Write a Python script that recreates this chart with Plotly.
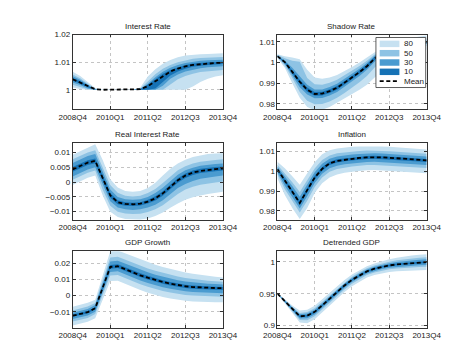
import plotly.graph_objects as go

# ---------------- data ----------------
quarters = ["2008Q4",
            "2009Q1", "2009Q2", "2009Q3", "2009Q4",
            "2010Q1", "2010Q2", "2010Q3", "2010Q4",
            "2011Q1", "2011Q2", "2011Q3", "2011Q4",
            "2012Q1", "2012Q2", "2012Q3", "2012Q4",
            "2013Q1", "2013Q2", "2013Q3", "2013Q4"]
x_tick_labels = ["2008Q4", "2010Q1", "2011Q2", "2012Q3", "2013Q4"]
band_levels = ["80", "50", "30", "10"]
panel_titles = ["Interest Rate", "Shadow Rate", "Real Interest Rate",
                "Inflation", "GDP Growth", "Detrended GDP"]

# Interest Rate
ir_mean = [1.0038, 1.0026, 1.0012, 1.0002, 1.0, 1.0, 1.0, 1.0, 1.0, 1.0002, 1.0013, 1.0030, 1.0050, 1.0066, 1.0077, 1.0085, 1.0090, 1.0093, 1.0095, 1.0097, 1.0098]
ir_u80 = [1.0065, 1.0050, 1.0028, 1.0006, 1.0, 1.0, 1.0, 1.0, 1.0, 1.0008, 1.0048, 1.0074, 1.0094, 1.0108, 1.0118, 1.0124, 1.0127, 1.0129, 1.0130, 1.0131, 1.0132]
ir_l80 = [1.0008, 1.0003, 1.0, 1.0, 1.0, 1.0, 1.0, 1.0, 1.0, 1.0, 1.0, 1.0, 1.0, 1.0, 1.0, 1.0, 1.0012, 1.0028, 1.0040, 1.0048, 1.0053]
ir_u50 = [1.0055, 1.0042, 1.0022, 1.0004, 1.0, 1.0, 1.0, 1.0, 1.0, 1.0005, 1.0030, 1.0056, 1.0076, 1.0090, 1.0100, 1.0107, 1.0112, 1.0115, 1.0117, 1.0118, 1.0119]
ir_l50 = [1.0018, 1.0010, 1.0002, 1.0, 1.0, 1.0, 1.0, 1.0, 1.0, 1.0, 1.0, 1.0, 1.0, 1.0020, 1.0038, 1.0050, 1.0058, 1.0064, 1.0068, 1.0070, 1.0072]
ir_u30 = [1.0049, 1.0036, 1.0018, 1.0002, 1.0, 1.0, 1.0, 1.0, 1.0, 1.0003, 1.0022, 1.0045, 1.0065, 1.0080, 1.0090, 1.0097, 1.0102, 1.0105, 1.0107, 1.0108, 1.0109]
ir_l30 = [1.0026, 1.0017, 1.0005, 1.0, 1.0, 1.0, 1.0, 1.0, 1.0, 1.0, 1.0, 1.0, 1.0015, 1.0040, 1.0055, 1.0066, 1.0073, 1.0078, 1.0082, 1.0084, 1.0085]
ir_u10 = [1.0043, 1.0031, 1.0015, 1.0001, 1.0, 1.0, 1.0, 1.0, 1.0, 1.0003, 1.0018, 1.0038, 1.0058, 1.0072, 1.0082, 1.0090, 1.0095, 1.0098, 1.0100, 1.0101, 1.0102]
ir_l10 = [1.0033, 1.0023, 1.0009, 1.0, 1.0, 1.0, 1.0, 1.0, 1.0, 1.0, 1.0, 1.0005, 1.0030, 1.0052, 1.0066, 1.0076, 1.0083, 1.0087, 1.0090, 1.0092, 1.0093]
ir_ticks = [1.0, 1.01, 1.02]
ir_tick_labels = ["1", "1.01", "1.02"]

# Shadow Rate
sh_mean = [1.0031, 1.0002, 0.9955, 0.9907, 0.9869, 0.9848, 0.9850, 0.9862, 0.9878, 0.9902, 0.9927, 0.9953, 0.9982, 1.0018, 1.0045, 1.0063, 1.0076, 1.0085, 1.0091, 1.0095, 1.0097]
sh_u80 = [1.0040, 1.0030, 1.0024, 1.0016, 0.9965, 0.9928, 0.9922, 0.9928, 0.9940, 0.9958, 0.9978, 1.0000, 1.0023, 1.0048, 1.0072, 1.0090, 1.0103, 1.0113, 1.0120, 1.0126, 1.0130]
sh_l80 = [1.0022, 0.9975, 0.9900, 0.9830, 0.9785, 0.9770, 0.9772, 0.9785, 0.9805, 0.9825, 0.9848, 0.9868, 0.9893, 0.9925, 0.9960, 0.9990, 1.0012, 1.0030, 1.0045, 1.0055, 1.0062]
sh_u50 = [1.0037, 1.0020, 1.0008, 1.0004, 0.9925, 0.9895, 0.9893, 0.9902, 0.9917, 0.9938, 0.9960, 0.9983, 1.0008, 1.0038, 1.0062, 1.0078, 1.0090, 1.0098, 1.0104, 1.0108, 1.0111]
sh_l50 = [1.0025, 0.9985, 0.9925, 0.9858, 0.9815, 0.9798, 0.9800, 0.9812, 0.9830, 0.9853, 0.9878, 0.9905, 0.9935, 0.9975, 1.0008, 1.0033, 1.0050, 1.0062, 1.0071, 1.0077, 1.0080]
sh_u30 = [1.0034, 1.0010, 0.9975, 0.9935, 0.9893, 0.9870, 0.9870, 0.9882, 0.9898, 0.9921, 0.9945, 0.9970, 0.9998, 1.0032, 1.0057, 1.0073, 1.0085, 1.0093, 1.0099, 1.0103, 1.0105]
sh_l30 = [1.0028, 0.9994, 0.9938, 0.9880, 0.9845, 0.9827, 0.9829, 0.9841, 0.9857, 0.9882, 0.9908, 0.9935, 0.9965, 1.0003, 1.0032, 1.0052, 1.0066, 1.0076, 1.0083, 1.0087, 1.0089]
sh_u10 = [1.0032, 1.0005, 0.9962, 0.9917, 0.9879, 0.9857, 0.9859, 0.9871, 0.9887, 0.9910, 0.9935, 0.9961, 0.9990, 1.0025, 1.0051, 1.0068, 1.0081, 1.0089, 1.0095, 1.0099, 1.0101]
sh_l10 = [1.0030, 0.9998, 0.9948, 0.9897, 0.9859, 0.9839, 0.9841, 0.9853, 0.9869, 0.9894, 0.9919, 0.9945, 0.9974, 1.0011, 1.0039, 1.0058, 1.0071, 1.0081, 1.0087, 1.0091, 1.0093]
sh_ticks = [0.98, 0.99, 1.0, 1.01]
sh_tick_labels = ["0.98", "0.99", "1", "1.01"]

# Real Interest Rate
rr_mean = [0.0043, 0.0055, 0.0066, 0.0072, 0.0012, -0.0045, -0.0068, -0.0074, -0.0075, -0.0073, -0.0066, -0.0055, -0.0038, -0.0016, 0.0006, 0.0022, 0.0032, 0.0038, 0.0042, 0.0044, 0.0046]
rr_u80 = [0.0093, 0.0105, 0.0118, 0.0128, 0.0075, 0.0010, -0.0018, -0.0030, -0.0033, -0.0030, -0.0020, -0.0002, 0.0022, 0.0045, 0.0063, 0.0076, 0.0085, 0.0091, 0.0095, 0.0097, 0.0098]
rr_l80 = [-0.0010, 0.0003, 0.0015, 0.0022, -0.0045, -0.0100, -0.0118, -0.0125, -0.0127, -0.0127, -0.0123, -0.0115, -0.0103, -0.0087, -0.0072, -0.0060, -0.0051, -0.0045, -0.0040, -0.0036, -0.0033]
rr_u50 = [0.0077, 0.0089, 0.0100, 0.0108, 0.0052, -0.0010, -0.0036, -0.0046, -0.0049, -0.0046, -0.0037, -0.0023, -0.0003, 0.0020, 0.0040, 0.0054, 0.0063, 0.0069, 0.0073, 0.0075, 0.0077]
rr_l50 = [0.0008, 0.0020, 0.0032, 0.0039, -0.0026, -0.0080, -0.0100, -0.0106, -0.0108, -0.0107, -0.0101, -0.0092, -0.0078, -0.0058, -0.0040, -0.0025, -0.0016, -0.0009, -0.0004, -0.0001, 0.0002]
rr_u30 = [0.0065, 0.0077, 0.0088, 0.0095, 0.0036, -0.0025, -0.0050, -0.0058, -0.0060, -0.0058, -0.0050, -0.0037, -0.0019, 0.0004, 0.0025, 0.0040, 0.0049, 0.0055, 0.0059, 0.0061, 0.0063]
rr_l30 = [0.0019, 0.0032, 0.0043, 0.0050, -0.0009, -0.0065, -0.0086, -0.0092, -0.0094, -0.0092, -0.0086, -0.0077, -0.0061, -0.0040, -0.0020, -0.0006, 0.0004, 0.0011, 0.0016, 0.0019, 0.0022]
rr_u10 = [0.0051, 0.0063, 0.0074, 0.0080, 0.0021, -0.0037, -0.0061, -0.0068, -0.0070, -0.0068, -0.0060, -0.0048, -0.0031, -0.0009, 0.0013, 0.0029, 0.0039, 0.0045, 0.0049, 0.0051, 0.0053]
rr_l10 = [0.0035, 0.0047, 0.0058, 0.0064, 0.0003, -0.0053, -0.0075, -0.0080, -0.0081, -0.0079, -0.0072, -0.0062, -0.0046, -0.0024, -0.0002, 0.0014, 0.0024, 0.0031, 0.0035, 0.0037, 0.0039]
rr_ticks = [-0.01, -0.005, 0.0, 0.005, 0.01]
rr_tick_labels = ["\u22120.01", "\u22120.005", "0", "0.005", "0.01"]

# Inflation
in_mean = [1.0010, 0.9953, 0.9900, 0.9840, 0.9905, 0.9968, 1.0012, 1.0040, 1.0052, 1.0058, 1.0063, 1.0067, 1.0070, 1.0071, 1.0070, 1.0068, 1.0065, 1.0062, 1.0059, 1.0057, 1.0055]
in_u80 = [1.0048, 1.0015, 0.9975, 0.9932, 0.9990, 1.0045, 1.0085, 1.0105, 1.0115, 1.0120, 1.0123, 1.0125, 1.0126, 1.0126, 1.0125, 1.0123, 1.0120, 1.0117, 1.0114, 1.0112, 1.0110]
in_l80 = [0.9965, 0.9880, 0.9815, 0.9760, 0.9815, 0.9890, 0.9940, 0.9968, 0.9983, 0.9992, 0.9998, 1.0002, 1.0005, 1.0006, 1.0005, 1.0003, 1.0000, 0.9997, 0.9994, 0.9992, 0.9990]
in_u50 = [1.0033, 0.9990, 0.9945, 0.9895, 0.9956, 1.0014, 1.0056, 1.0079, 1.0090, 1.0095, 1.0099, 1.0102, 1.0104, 1.0104, 1.0103, 1.0101, 1.0098, 1.0095, 1.0092, 1.0090, 1.0088]
in_l50 = [0.9983, 0.9909, 0.9849, 0.9792, 0.9851, 0.9921, 0.9969, 0.9997, 1.0011, 1.0018, 1.0024, 1.0028, 1.0031, 1.0032, 1.0031, 1.0029, 1.0026, 1.0023, 1.0020, 1.0018, 1.0016]
in_u30 = [1.0023, 0.9975, 0.9926, 0.9872, 0.9935, 0.9995, 1.0038, 1.0063, 1.0074, 1.0080, 1.0084, 1.0087, 1.0090, 1.0090, 1.0089, 1.0087, 1.0084, 1.0081, 1.0078, 1.0076, 1.0074]
in_l30 = [0.9994, 0.9927, 0.9870, 0.9812, 0.9874, 0.9941, 0.9987, 1.0015, 1.0028, 1.0035, 1.0040, 1.0044, 1.0047, 1.0048, 1.0047, 1.0045, 1.0042, 1.0039, 1.0036, 1.0034, 1.0032]
in_u10 = [1.0015, 0.9960, 0.9909, 0.9851, 0.9915, 0.9977, 1.0021, 1.0048, 1.0060, 1.0065, 1.0070, 1.0074, 1.0077, 1.0078, 1.0077, 1.0075, 1.0072, 1.0069, 1.0066, 1.0064, 1.0062]
in_l10 = [1.0005, 0.9944, 0.9890, 0.9830, 0.9894, 0.9959, 1.0003, 1.0031, 1.0044, 1.0050, 1.0055, 1.0059, 1.0062, 1.0063, 1.0062, 1.0060, 1.0057, 1.0054, 1.0051, 1.0049, 1.0047]
in_ticks = [0.98, 0.99, 1.0, 1.01]
in_tick_labels = ["0.98", "0.99", "1", "1.01"]

# GDP Growth
gg_mean = [-0.0125, -0.0115, -0.0103, -0.0078, 0.0050, 0.0178, 0.0182, 0.0163, 0.0144, 0.0126, 0.0111, 0.0097, 0.0085, 0.0074, 0.0065, 0.0058, 0.0053, 0.0050, 0.0048, 0.0047, 0.0046]
gg_u80 = [-0.0070, -0.0058, -0.0045, -0.0025, 0.0120, 0.0275, 0.0280, 0.0262, 0.0243, 0.0225, 0.0208, 0.0192, 0.0178, 0.0165, 0.0153, 0.0143, 0.0135, 0.0128, 0.0122, 0.0117, 0.0113]
gg_l80 = [-0.0185, -0.0175, -0.0163, -0.0140, -0.0025, 0.0090, 0.0092, 0.0075, 0.0055, 0.0035, 0.0018, 0.0004, -0.0008, -0.0018, -0.0026, -0.0032, -0.0036, -0.0038, -0.0040, -0.0041, -0.0042]
gg_u50 = [-0.0092, -0.0081, -0.0068, -0.0046, 0.0092, 0.0236, 0.0241, 0.0222, 0.0203, 0.0185, 0.0169, 0.0154, 0.0141, 0.0129, 0.0118, 0.0109, 0.0102, 0.0097, 0.0092, 0.0089, 0.0086]
gg_l50 = [-0.0161, -0.0151, -0.0139, -0.0115, 0.0005, 0.0125, 0.0128, 0.0110, 0.0091, 0.0071, 0.0055, 0.0041, 0.0029, 0.0019, 0.0010, 0.0004, 0.0000, -0.0003, -0.0005, -0.0006, -0.0007]
gg_u30 = [-0.0106, -0.0095, -0.0083, -0.0059, 0.0075, 0.0212, 0.0216, 0.0198, 0.0179, 0.0161, 0.0145, 0.0130, 0.0118, 0.0106, 0.0096, 0.0088, 0.0082, 0.0077, 0.0074, 0.0072, 0.0069]
gg_l30 = [-0.0146, -0.0136, -0.0124, -0.0100, 0.0024, 0.0147, 0.0151, 0.0132, 0.0113, 0.0094, 0.0078, 0.0064, 0.0052, 0.0042, 0.0033, 0.0027, 0.0022, 0.0019, 0.0017, 0.0016, 0.0015]
gg_u10 = [-0.0118, -0.0108, -0.0096, -0.0072, 0.0058, 0.0190, 0.0194, 0.0175, 0.0156, 0.0138, 0.0123, 0.0108, 0.0096, 0.0085, 0.0076, 0.0068, 0.0063, 0.0059, 0.0057, 0.0055, 0.0054]
gg_l10 = [-0.0132, -0.0122, -0.0110, -0.0085, 0.0041, 0.0167, 0.0171, 0.0152, 0.0133, 0.0115, 0.0100, 0.0086, 0.0074, 0.0063, 0.0054, 0.0047, 0.0042, 0.0039, 0.0037, 0.0036, 0.0035]
gg_ticks = [-0.01, 0.0, 0.01, 0.02]
gg_tick_labels = ["\u22120.01", "0", "0.01", "0.02"]

# Detrended GDP
dg_mean = [0.9503, 0.9380, 0.9260, 0.9145, 0.9155, 0.9215, 0.9315, 0.9425, 0.9528, 0.9630, 0.9718, 0.9789, 0.9850, 0.9892, 0.9923, 0.9944, 0.9959, 0.9970, 0.9980, 0.9989, 0.9995]
dg_u80 = [0.9510, 0.9410, 0.9315, 0.9235, 0.9250, 0.9310, 0.9410, 0.9518, 0.9618, 0.9715, 0.9800, 0.9870, 0.9930, 0.9975, 1.0010, 1.0040, 1.0065, 1.0085, 1.0100, 1.0112, 1.0120]
dg_l80 = [0.9496, 0.9345, 0.9200, 0.9050, 0.9035, 0.9100, 0.9200, 0.9315, 0.9420, 0.9525, 0.9615, 0.9690, 0.9755, 0.9795, 0.9822, 0.9840, 0.9852, 0.9860, 0.9866, 0.9870, 0.9872]
dg_u50 = [0.9507, 0.9398, 0.9293, 0.9199, 0.9212, 0.9272, 0.9372, 0.9481, 0.9582, 0.9681, 0.9767, 0.9838, 0.9898, 0.9942, 0.9975, 1.0002, 1.0023, 1.0039, 1.0052, 1.0063, 1.0070]
dg_l50 = [0.9499, 0.9359, 0.9224, 0.9088, 0.9083, 0.9146, 0.9246, 0.9359, 0.9463, 0.9567, 0.9656, 0.9730, 0.9793, 0.9834, 0.9862, 0.9882, 0.9895, 0.9904, 0.9912, 0.9918, 0.9921]
dg_u30 = [0.9505, 0.9391, 0.9279, 0.9177, 0.9188, 0.9248, 0.9348, 0.9458, 0.9560, 0.9660, 0.9747, 0.9817, 0.9878, 0.9921, 0.9953, 0.9978, 0.9996, 1.0010, 1.0022, 1.0032, 1.0039]
dg_l30 = [0.9501, 0.9368, 0.9239, 0.9112, 0.9113, 0.9175, 0.9275, 0.9387, 0.9490, 0.9593, 0.9682, 0.9754, 0.9817, 0.9858, 0.9888, 0.9908, 0.9922, 0.9932, 0.9940, 0.9947, 0.9952]
dg_u10 = [0.9504, 0.9384, 0.9267, 0.9156, 0.9166, 0.9226, 0.9326, 0.9436, 0.9539, 0.9640, 0.9728, 0.9799, 0.9860, 0.9902, 0.9933, 0.9956, 0.9972, 0.9984, 0.9994, 1.0004, 1.0010]
dg_l10 = [0.9502, 0.9376, 0.9253, 0.9134, 0.9141, 0.9201, 0.9301, 0.9412, 0.9515, 0.9617, 0.9706, 0.9777, 0.9839, 0.9880, 0.9911, 0.9932, 0.9946, 0.9957, 0.9966, 0.9975, 0.9980]
dg_ticks = [0.9, 0.95, 1.0]
dg_tick_labels = ["0.9", "0.95", "1"]

# ---------------- styling ----------------
W, H = 474, 364
FONT = "Liberation Sans, Arial, sans-serif"
TXT = "#222222"
band_colors = {"80": "#c6e1f1", "50": "#8ec3e4", "30": "#4a9bd0", "10": "#1672b5"}

panels = [
    dict(mean=ir_mean, bands={"80": (ir_u80, ir_l80), "50": (ir_u50, ir_l50), "30": (ir_u30, ir_l30), "10": (ir_u10, ir_l10)},
         ticks=ir_ticks, labels=ir_tick_labels, yr=[0.993, 1.02]),
    dict(mean=sh_mean, bands={"80": (sh_u80, sh_l80), "50": (sh_u50, sh_l50), "30": (sh_u30, sh_l30), "10": (sh_u10, sh_l10)},
         ticks=sh_ticks, labels=sh_tick_labels, yr=[0.9775, 1.0135]),
    dict(mean=rr_mean, bands={"80": (rr_u80, rr_l80), "50": (rr_u50, rr_l50), "30": (rr_u30, rr_l30), "10": (rr_u10, rr_l10)},
         ticks=rr_ticks, labels=rr_tick_labels, yr=[-0.0128, 0.0131]),
    dict(mean=in_mean, bands={"80": (in_u80, in_l80), "50": (in_u50, in_l50), "30": (in_u30, in_l30), "10": (in_u10, in_l10)},
         ticks=in_ticks, labels=in_tick_labels, yr=[0.9755, 1.014]),
    dict(mean=gg_mean, bands={"80": (gg_u80, gg_l80), "50": (gg_u50, gg_l50), "30": (gg_u30, gg_l30), "10": (gg_u10, gg_l10)},
         ticks=gg_ticks, labels=gg_tick_labels, yr=[-0.02, 0.0275]),
    dict(mean=dg_mean, bands={"80": (dg_u80, dg_l80), "50": (dg_u50, dg_l50), "30": (dg_u30, dg_l30), "10": (dg_u10, dg_l10)},
         ticks=dg_ticks, labels=dg_tick_labels, yr=[0.8965, 1.0165]),
]

# pixel boxes of plot areas (left, right, top, bottom)
col_px = [(54, 214), (272, 431)]
row_px = [(23, 99), (134, 212), (244, 322)]
title_px = [15, 125, 235]

fig = go.Figure()
layout = dict(width=W, height=H, margin=dict(l=0, r=0, t=0, b=0),
              paper_bgcolor="white", plot_bgcolor="white", showlegend=False,
              font=dict(family=FONT, size=8, color=TXT))
annotations = []
shapes = []

for i, p in enumerate(panels):
    k = i + 1
    r, c = divmod(i, 2)
    xs = "x" if k == 1 else f"x{k}"
    ys = "y" if k == 1 else f"y{k}"
    for lev in band_levels:
        up, lo = p["bands"][lev]
        fig.add_trace(go.Scatter(
            x=quarters + quarters[::-1], y=up + lo[::-1],
            mode="lines", fill="toself", fillcolor=band_colors[lev],
            line=dict(width=0, color=band_colors[lev]), hoverinfo="skip",
            xaxis=xs, yaxis=ys))
    fig.add_trace(go.Scatter(
        x=quarters, y=p["mean"], mode="lines",
        line=dict(color="black", width=1.8, dash="4px,2.6px"),
        xaxis=xs, yaxis=ys))

    x0, x1 = col_px[c]
    t, b = row_px[r]
    axcommon = dict(showline=True, linecolor="#333333", linewidth=0.8, mirror="ticks",
                    ticks="inside", ticklen=3, tickcolor="#333333", tickwidth=0.7,
                    showgrid=True, gridcolor="#c4c4c4", gridwidth=0.8, griddash="dot",
                    zeroline=False, tickfont=dict(family=FONT, size=8, color=TXT))
    layout["xaxis" if k == 1 else f"xaxis{k}"] = dict(
        axcommon, type="category", categoryorder="array", categoryarray=quarters,
        range=[0, len(quarters) - 1], tickmode="array", tickvals=x_tick_labels,
        ticktext=x_tick_labels, domain=[x0 / W, x1 / W], anchor=ys)
    layout["yaxis" if k == 1 else f"yaxis{k}"] = dict(
        axcommon, range=p["yr"], tickmode="array", tickvals=p["ticks"],
        ticktext=p["labels"], domain=[1 - b / H, 1 - t / H], anchor=xs)
    annotations.append(dict(text=panel_titles[i], x=(x0 + x1) / 2 / W, y=1 - title_px[r] / H,
                            xref="paper", yref="paper", showarrow=False,
                            xanchor="center", yanchor="middle",
                            font=dict(family=FONT, size=8, color=TXT)))

# legend drawn inside the Shadow Rate panel
lx0, lx1, ly0, ly1 = 377, 430, 26, 77
shapes.append(dict(type="rect", xref="paper", yref="paper",
                   x0=lx0 / W, x1=lx1 / W, y0=1 - ly1 / H, y1=1 - ly0 / H,
                   fillcolor="white", line=dict(color="#333333", width=0.8)))
row_centers = [32.5, 42, 51.5, 61, 70.5]
for j, lev in enumerate(band_levels):
    yc = row_centers[j]
    shapes.append(dict(type="rect", xref="paper", yref="paper",
                       x0=381 / W, x1=402 / W, y0=1 - (yc + 3.3) / H, y1=1 - (yc - 3.3) / H,
                       fillcolor=band_colors[lev], line=dict(width=0)))
    annotations.append(dict(text=lev, x=405 / W, y=1 - yc / H, xref="paper", yref="paper",
                            showarrow=False, xanchor="left", yanchor="middle",
                            font=dict(family=FONT, size=8, color=TXT)))
yc = row_centers[4]
shapes.append(dict(type="line", xref="paper", yref="paper",
                   x0=381 / W, x1=402 / W, y0=1 - yc / H, y1=1 - yc / H,
                   line=dict(color="black", width=1.8, dash="4px,2.6px")))
annotations.append(dict(text="Mean", x=405 / W, y=1 - yc / H, xref="paper", yref="paper",
                        showarrow=False, xanchor="left", yanchor="middle",
                        font=dict(family=FONT, size=8, color=TXT)))

layout["annotations"] = annotations
layout["shapes"] = shapes
fig.update_layout(**layout)
fig.write_html("out.html")
